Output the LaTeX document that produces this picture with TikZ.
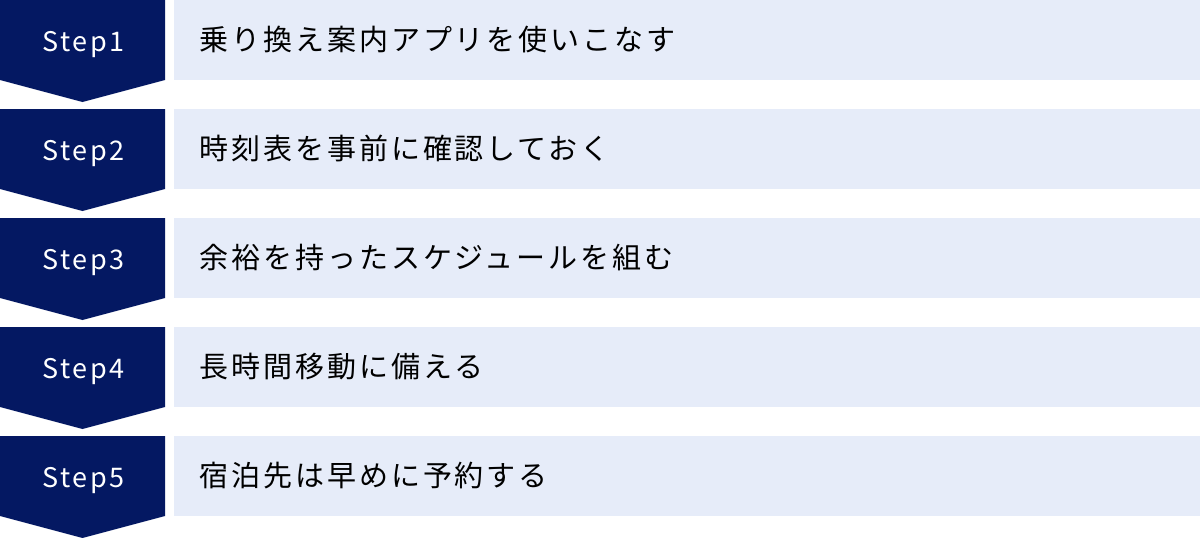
\documentclass[tikz,border=0pt]{standalone}
\usepackage{fontspec}
\setmainfont{Noto Sans CJK JP}
\newfontfamily\stepfont[LetterSpace=10]{Noto Sans CJK JP}
\newfontfamily\itemfont[LetterSpace=10]{Noto Sans CJK JP}
\definecolor{navy}{HTML}{041862}
\definecolor{lightbg}{HTML}{E6ECF9}
\begin{document}
\begin{tikzpicture}[x=1pt,y=-1pt,
  stepshape/.style={fill=navy,draw=none},
  barshape/.style={fill=lightbg,draw=none},
  steplabel/.style={text=white,font=\stepfont\fontsize{27}{30}\selectfont,inner sep=0pt,anchor=base},
  itemlabel/.style={text=black,font=\itemfont\fontsize{29}{32}\selectfont,inner sep=0pt,anchor=base west}]
\useasboundingbox (0,0) rectangle (1200,538);
\foreach \i/\txt in {0/乗り換え案内アプリを使いこなす,1/時刻表を事前に確認しておく,2/余裕を持ったスケジュールを組む,3/長時間移動に備える,4/宿泊先は早めに予約する}{
  \pgfmathsetmacro{\t}{109*\i}
  \pgfmathtruncatemacro{\n}{\i+1}
  \fill[stepshape] (0,\t) -- (165,\t) -- (165,\t+80) -- (82.5,\t+102) -- (0,\t+80) -- cycle;
  \fill[barshape] (174,\t) rectangle (1200,\t+80);
  \node[steplabel] (step\n) at (83.5,\t+51.5) {Step\n};
  \node[itemlabel] (item\n) at (199.5,\t+50.5) {\txt};
}
\end{tikzpicture}
\end{document}
